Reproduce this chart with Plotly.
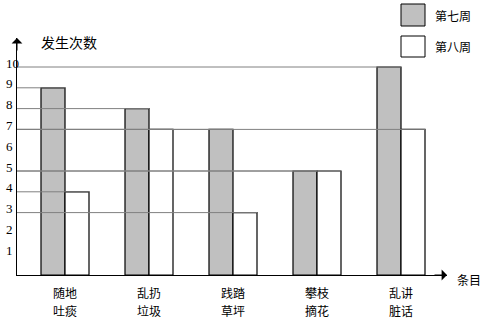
import plotly.graph_objects as go

# ---- data ----
categories_line1 = ["随地", "乱扔", "践踏", "攀枝", "乱讲"]
categories_line2 = ["吐痰", "垃圾", "草坪", "摘花", "脏话"]
series_names = ["第七周", "第八周"]
week7 = [9, 8, 7, 5, 10]
week8 = [4, 7, 3, 5, 7]
y_tick_values = [1, 2, 3, 4, 5, 6, 7, 8, 9, 10]
y_title = "发生次数"
x_title = "条目"

# ---- layout constants ----
W, H = 482, 320
L, R, T, B = 17, 35, 38, 45
PW, PH = W - L - R, H - T - B
x_range = [-48 / 84, -48 / 84 + PW / 84]
y_range = [0, PH / 20.8]
bar_w = 24 / 84
GRAY = "#c0c0c0"
CJK = "Noto Sans CJK SC"
SERIF = "Liberation Serif"


def px_x(p):
    return (p - L) / PW


def px_y(p):
    return (H - B - p) / PH


xs = list(range(len(categories_line1)))

fig = go.Figure()
fig.add_bar(x=xs, y=week7, width=bar_w, offset=-bar_w, name=series_names[0],
            marker=dict(color=GRAY, line=dict(color="black", width=1.2)))
fig.add_bar(x=xs, y=week8, width=bar_w, offset=0, name=series_names[1],
            marker=dict(color="white", line=dict(color="black", width=1.2)))

shapes = []
# reference lines from y axis to the top-right corner of each bar
for i, v in enumerate(week7):
    shapes.append(dict(type="line", xref="x", yref="y", x0=x_range[0], x1=xs[i],
                       y0=v, y1=v, line=dict(color="#808080", width=1), layer="above"))
for i, v in enumerate(week8):
    shapes.append(dict(type="line", xref="x", yref="y", x0=x_range[0], x1=xs[i] + bar_w,
                       y0=v, y1=v, line=dict(color="#808080", width=1), layer="above"))

# legend boxes
shapes.append(dict(type="rect", xref="paper", yref="paper",
                   x0=px_x(401), x1=px_x(425), y0=px_y(26), y1=px_y(4),
                   fillcolor=GRAY, line=dict(color="black", width=1)))
shapes.append(dict(type="rect", xref="paper", yref="paper",
                   x0=px_x(401), x1=px_x(425), y0=px_y(57), y1=px_y(36),
                   fillcolor="white", line=dict(color="black", width=1)))

ann = []
# legend texts
ann.append(dict(x=px_x(433), y=px_y(15), xref="paper", yref="paper", text=series_names[0],
                showarrow=False, xanchor="left", yanchor="middle",
                font=dict(family=CJK, size=12, color="black")))
ann.append(dict(x=px_x(433), y=px_y(47), xref="paper", yref="paper", text=series_names[1],
                showarrow=False, xanchor="left", yanchor="middle",
                font=dict(family=CJK, size=12, color="black")))
# y tick labels
for v in y_tick_values:
    ann.append(dict(x=px_x(4), y=v, xref="paper", yref="y", text=str(v), showarrow=False,
                    xanchor="left", yanchor="middle", yshift=4,
                    font=dict(family=SERIF, size=13, color="black")))
# category labels
for i in xs:
    ann.append(dict(x=i, y=0, xref="x", yref="y", text=categories_line1[i], showarrow=False,
                    xanchor="center", yanchor="middle", yshift=-17,
                    font=dict(family=CJK, size=12, color="black")))
    ann.append(dict(x=i, y=0, xref="x", yref="y", text=categories_line2[i], showarrow=False,
                    xanchor="center", yanchor="middle", yshift=-35,
                    font=dict(family=CJK, size=12, color="black")))
# axis titles
ann.append(dict(x=px_x(39), y=px_y(41.5), xref="paper", yref="paper", text=y_title,
                showarrow=False, xanchor="left", yanchor="middle",
                font=dict(family=CJK, size=14, color="black")))
ann.append(dict(x=px_x(455), y=0, xref="paper", yref="y", text=x_title, showarrow=False,
                xanchor="left", yanchor="middle", yshift=-4,
                font=dict(family=CJK, size=12, color="black")))
# arrowheads
ann.append(dict(x=1, y=0, xref="paper", yref="paper", ax=-14, ay=0, text="",
                showarrow=True, arrowhead=1, arrowsize=1.8, arrowwidth=1, arrowcolor="black"))
ann.append(dict(x=0, y=1, xref="paper", yref="paper", ax=0, ay=14, text="",
                showarrow=True, arrowhead=1, arrowsize=1.8, arrowwidth=1, arrowcolor="black"))

fig.update_layout(
    width=W, height=H,
    margin=dict(l=L, r=R, t=T, b=B, pad=0),
    paper_bgcolor="white", plot_bgcolor="white",
    barmode="overlay", showlegend=False,
    shapes=shapes, annotations=ann,
    xaxis=dict(range=x_range, showgrid=False, zeroline=False, showticklabels=False,
               ticks="", showline=True, linecolor="black", linewidth=1, fixedrange=True),
    yaxis=dict(range=y_range, showgrid=False, zeroline=False, showticklabels=False,
               ticks="", showline=True, linecolor="black", linewidth=1, fixedrange=True),
)

fig.write_html("out.html")
